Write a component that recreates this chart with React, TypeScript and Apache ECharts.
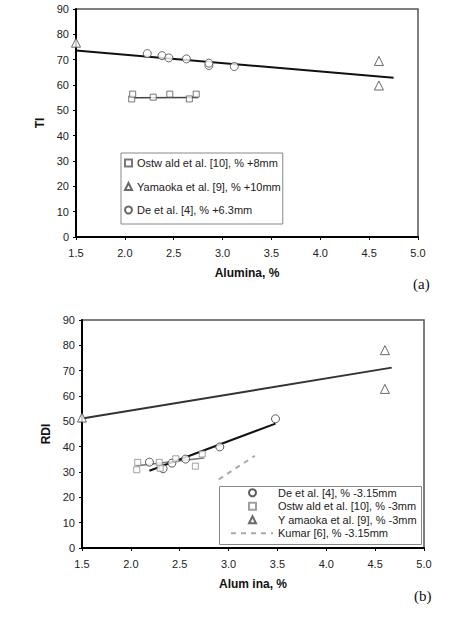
import React, { useEffect, useRef } from 'react';
import * as echarts from 'echarts';

// (a) TI vs alumina
const tiOstwaldX = [2.07, 2.08, 2.29, 2.46, 2.66, 2.73];
const tiOstwaldY = [54.5, 56.4, 55.2, 56.4, 54.5, 56.4];
const tiYamaokaX = [1.5, 4.6, 4.6];
const tiYamaokaY = [76.7, 69.5, 59.8];
const tiDeX = [2.23, 2.38, 2.45, 2.63, 2.86, 2.86, 3.12];
const tiDeY = [72.4, 71.6, 70.7, 70.3, 67.7, 68.6, 67.3];
const tiTrendX = [1.5, 4.75];
const tiTrendY = [73.6, 62.9];
const tiOstwaldTrendX = [2.07, 2.75];
const tiOstwaldTrendY = [55.0, 55.1];

// (b) RDI vs alumina
const rdiDeX = [2.19, 2.33, 2.42, 2.56, 2.91, 3.48];
const rdiDeY = [33.9, 31.3, 33.5, 35.1, 39.9, 51.0];
const rdiOstwaldX = [2.06, 2.07, 2.29, 2.3, 2.46, 2.66, 2.73];
const rdiOstwaldY = [30.9, 33.8, 33.8, 31.5, 35.2, 32.3, 37.1];
const rdiYamaokaX = [1.5, 4.6, 4.6];
const rdiYamaokaY = [51.5, 78.1, 62.8];
const rdiYamaokaTrendX = [1.5, 4.67];
const rdiYamaokaTrendY = [51.1, 71.2];
const rdiDeTrendX = [2.19, 3.48];
const rdiDeTrendY = [30.5, 49.1];
const rdiOstwaldTrendX = [2.06, 2.75];
const rdiOstwaldTrendY = [32.5, 35.5];
const kumarX = [2.9, 3.27];
const kumarY = [27.1, 36.4];

const tiNames = [
  'Ostw ald et al. [10], % +8mm',
  'Yamaoka et al. [9], % +10mm',
  'De et al. [4], % +6.3mm',
];
const rdiNames = [
  'De et al. [4], % -3.15mm',
  'Ostw ald et al. [10], % -3mm',
  'Y amaoka et al. [9], % -3mm',
  'Kumar [6], % -3.15mm',
];

const zip = (xs: number[], ys: number[]) => xs.map((x, i) => [x, ys[i]]);

const FONT = '"Liberation Sans", Arial, sans-serif';

const openMarker = (color: string) => ({
  color: '#fff',
  borderColor: color,
  borderWidth: 1,
});

export default function App() {
  const chartRef = useRef<HTMLDivElement>(null);

  useEffect(() => {
    if (!chartRef.current) return;
    const myChart = echarts.init(chartRef.current, null, { renderer: 'svg' });

    const xAxisBase = {
      type: 'value',
      min: 1.5,
      max: 5.0,
      interval: 0.5,
      nameLocation: 'middle',
      nameGap: 30,
      nameTextStyle: { fontFamily: FONT, fontSize: 12, fontWeight: 'bold', color: '#111' },
      axisLine: { show: true, onZero: false, lineStyle: { color: '#000', width: 2 } },
      axisTick: { show: true, length: 3, lineStyle: { color: '#000' } },
      axisLabel: {
        fontFamily: FONT,
        fontSize: 11,
        color: '#222',
        margin: 10,
        formatter: (v: number) => v.toFixed(1),
      },
      splitLine: { show: false },
    };
    const yAxisBase = {
      type: 'value',
      min: 0,
      max: 90,
      interval: 10,
      nameLocation: 'middle',
      nameTextStyle: { fontFamily: FONT, fontSize: 12, fontWeight: 'bold', color: '#111' },
      axisLine: { show: true, onZero: false, lineStyle: { color: '#000', width: 2 } },
      axisTick: { show: true, length: 3, lineStyle: { color: '#000' } },
      axisLabel: { fontFamily: FONT, fontSize: 11, color: '#222', margin: 7 },
      splitLine: { show: false },
    };

    const bottomLegendText = { fontFamily: FONT, fontSize: 11, color: '#222', lineHeight: 13.5 };

    const option = {
      animation: false,
      backgroundColor: '#fff',
      grid: [
        { left: 76, right: 56, top: 9, height: 228, show: true, borderColor: '#555', borderWidth: 1.5 },
        { left: 82, right: 50, top: 320, height: 228, show: true, borderColor: '#555', borderWidth: 1.5 },
      ],
      xAxis: [
        { ...xAxisBase, gridIndex: 0, name: 'Alumina, %' },
        { ...xAxisBase, gridIndex: 1, name: 'Alum ina, %' },
      ],
      yAxis: [
        { ...yAxisBase, gridIndex: 0, name: 'TI', nameGap: 23 },
        { ...yAxisBase, gridIndex: 1, name: 'RDI', nameGap: 21 },
      ],
      legend: [
        {
          data: tiNames,
          orient: 'vertical',
          left: 121,
          top: 153,
          selectedMode: false,
          backgroundColor: '#fff',
          borderColor: '#888',
          borderWidth: 1,
          borderRadius: 0,
          padding: [3, 2, 7, 3],
          itemWidth: 7,
          itemHeight: 7,
          itemGap: 9.5,
          textStyle: { fontFamily: FONT, fontSize: 11, color: '#222', lineHeight: 14 },
        },
        {
          data: rdiNames.slice(0, 3),
          orient: 'vertical',
          left: 248,
          top: 486,
          selectedMode: false,
          padding: 0,
          itemWidth: 7,
          itemHeight: 7,
          itemGap: 0,
          textStyle: { ...bottomLegendText, padding: [0, 0, 0, 17] },
        },
        {
          data: [{ name: rdiNames[3], itemStyle: { opacity: 0 } }],
          orient: 'vertical',
          left: 230,
          top: 526.5,
          selectedMode: false,
          padding: 0,
          itemWidth: 42,
          itemHeight: 7,
          itemGap: 0,
          textStyle: bottomLegendText,
        },
      ],
      graphic: [
        {
          type: 'rect',
          z: 3,
          shape: { x: 219.5, y: 486.5, width: 202, height: 58 },
          style: { fill: '#fff', stroke: '#888', lineWidth: 1 },
        },
        {
          type: 'text',
          left: 413,
          top: 276,
          style: { text: '(a)', fontFamily: '"Liberation Serif", serif', fontSize: 15, fill: '#111' },
        },
        {
          type: 'text',
          left: 414,
          top: 588,
          style: { text: '(b)', fontFamily: '"Liberation Serif", serif', fontSize: 15, fill: '#111' },
        },
      ],
      series: [
        // (a)
        {
          type: 'line',
          xAxisIndex: 0,
          yAxisIndex: 0,
          data: zip(tiTrendX, tiTrendY),
          symbol: 'none',
          lineStyle: { color: '#111', width: 2 },
          z: 2,
        },
        {
          type: 'line',
          xAxisIndex: 0,
          yAxisIndex: 0,
          data: zip(tiOstwaldTrendX, tiOstwaldTrendY),
          symbol: 'none',
          lineStyle: { color: '#444', width: 1.5 },
          z: 2,
        },
        {
          name: tiNames[0],
          type: 'scatter',
          xAxisIndex: 0,
          yAxisIndex: 0,
          data: zip(tiOstwaldX, tiOstwaldY),
          symbol: 'rect',
          symbolSize: 6,
          itemStyle: openMarker('#555'),
          z: 3,
        },
        {
          name: tiNames[1],
          type: 'scatter',
          xAxisIndex: 0,
          yAxisIndex: 0,
          data: zip(tiYamaokaX, tiYamaokaY),
          symbol: 'triangle',
          symbolSize: 9,
          itemStyle: openMarker('#444'),
          z: 3,
        },
        {
          name: tiNames[2],
          type: 'scatter',
          xAxisIndex: 0,
          yAxisIndex: 0,
          data: zip(tiDeX, tiDeY),
          symbol: 'circle',
          symbolSize: 8,
          itemStyle: openMarker('#444'),
          z: 3,
        },
        // (b)
        {
          type: 'line',
          xAxisIndex: 1,
          yAxisIndex: 1,
          data: zip(rdiYamaokaTrendX, rdiYamaokaTrendY),
          symbol: 'none',
          lineStyle: { color: '#333', width: 2 },
          z: 2,
        },
        {
          type: 'line',
          xAxisIndex: 1,
          yAxisIndex: 1,
          data: zip(rdiOstwaldTrendX, rdiOstwaldTrendY),
          symbol: 'none',
          lineStyle: { color: '#777', width: 1.5 },
          z: 2,
        },
        {
          type: 'line',
          xAxisIndex: 1,
          yAxisIndex: 1,
          data: zip(rdiDeTrendX, rdiDeTrendY),
          symbol: 'none',
          lineStyle: { color: '#111', width: 2 },
          z: 2,
        },
        {
          name: rdiNames[0],
          type: 'scatter',
          xAxisIndex: 1,
          yAxisIndex: 1,
          data: zip(rdiDeX, rdiDeY),
          symbol: 'circle',
          symbolSize: 8,
          itemStyle: openMarker('#333'),
          z: 3,
        },
        {
          name: rdiNames[1],
          type: 'scatter',
          xAxisIndex: 1,
          yAxisIndex: 1,
          data: zip(rdiOstwaldX, rdiOstwaldY),
          symbol: 'rect',
          symbolSize: 6,
          itemStyle: openMarker('#888'),
          z: 3,
        },
        {
          name: rdiNames[2],
          type: 'scatter',
          xAxisIndex: 1,
          yAxisIndex: 1,
          data: zip(rdiYamaokaX, rdiYamaokaY),
          symbol: 'triangle',
          symbolSize: 9,
          itemStyle: openMarker('#444'),
          z: 3,
        },
        {
          name: rdiNames[3],
          type: 'line',
          xAxisIndex: 1,
          yAxisIndex: 1,
          data: zip(kumarX, kumarY),
          symbol: 'none',
          itemStyle: { color: '#aaa' },
          lineStyle: { color: '#aaa', width: 2, type: [5, 5] },
          z: 2,
        },
      ],
    };

    myChart.setOption(option as any);

    return () => {
      myChart.dispose();
    };
  }, []);

  return (
    <div
      ref={chartRef}
      style={{ position: 'fixed', left: 0, top: 0, width: 474, height: 620, background: '#fff' }}
    />
  );
}
